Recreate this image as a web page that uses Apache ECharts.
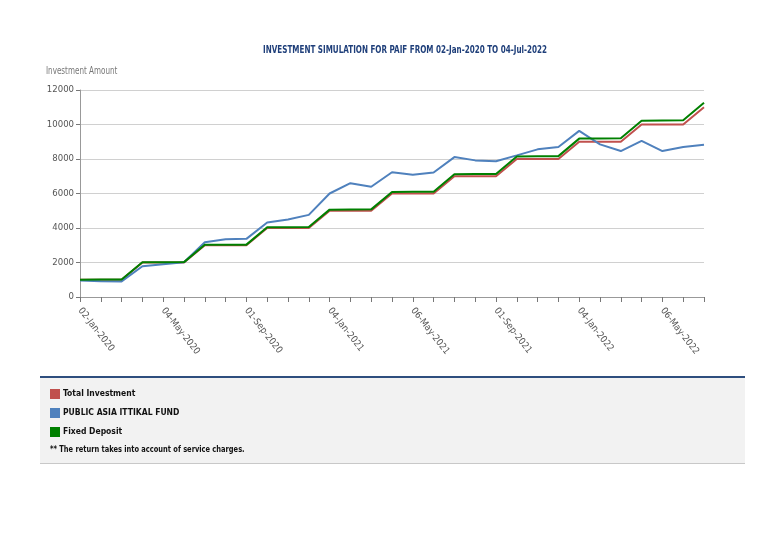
<!DOCTYPE html>
<html><head><meta charset="utf-8">
<script src="https://cdn.jsdelivr.net/npm/echarts@6/dist/echarts.min.js"></script>
<style>html,body{margin:0;padding:0;background:#fff}#c{width:768px;height:543px}</style>
</head><body><div id="c"></div>
<script>
const categories = ["02-Jan-2020","03-Feb-2020","02-Mar-2020","01-Apr-2020","04-May-2020","01-Jun-2020","01-Jul-2020","03-Aug-2020","01-Sep-2020","01-Oct-2020","02-Nov-2020","01-Dec-2020",
"04-Jan-2021","01-Feb-2021","01-Mar-2021","01-Apr-2021","06-May-2021","01-Jun-2021","01-Jul-2021","02-Aug-2021","01-Sep-2021","01-Oct-2021","01-Nov-2021","01-Dec-2021",
"04-Jan-2022","07-Feb-2022","01-Mar-2022","01-Apr-2022","06-May-2022","01-Jun-2022","04-Jul-2022"];
const totalInvestment = [1000,1000,1000,2000,2000,2000,3000,3000,3000,4000,4000,4000,5000,5000,5000,6000,6000,6000,7000,7000,7000,8000,8000,8000,9000,9000,9000,10000,10000,10000,11000];
const paif = [950,910,905,1780,1900,2020,3170,3350,3370,4320,4490,4760,6000,6600,6390,7230,7090,7220,8110,7920,7870,8210,8560,8700,9630,8850,8460,9050,8460,8700,8830];
const fixedDeposit = [1005,1008,1010,2015,2018,2022,3028,3032,3036,4045,4050,4055,5065,5072,5080,6090,6098,6106,7118,7126,7134,8148,8157,8166,9182,9192,9202,10218,10230,10242,11260];
const seriesNames = ["Total Investment","PUBLIC ASIA ITTIKAL FUND","Fixed Deposit"];
const seriesColors = ["#C0504D","#4F81BD","#008000"];
const yTicks = {min:0,max:12000,interval:2000};

const FONT = '"DejaVu Sans Condensed","Liberation Sans",sans-serif';
const chart = echarts.init(document.getElementById('c'));
const mk = (name, data, i, z) => ({
  name, type:'line', data, showSymbol:false, symbol:'none', z,
  lineStyle:{color:seriesColors[i], width:2}, itemStyle:{color:seriesColors[i]}
});
chart.setOption({
  animation:false,
  textStyle:{fontFamily:FONT},
  graphic:[
    {type:'text', x:405, y:45, scaleX:0.8, style:{text:'INVESTMENT SIMULATION FOR PAIF FROM 02-Jan-2020 TO 04-Jul-2022', font:'bold 10px '+FONT, fill:'#1F3F7A', textAlign:'center'}},
    {type:'text', x:46, y:66, scaleX:0.8, style:{text:'Investment Amount', font:'10px '+FONT, fill:'#777'}},
    {type:'rect', shape:{x:40,y:377,width:705,height:86}, style:{fill:'#F2F2F2'}, z:-1},
    {type:'rect', shape:{x:40,y:376,width:705,height:2}, style:{fill:'#2E4E7E'}},
    {type:'rect', shape:{x:40,y:463,width:705,height:1}, style:{fill:'#C8C8C8'}},
    {type:'text', x:50, y:445, scaleX:0.78, style:{text:'** The return takes into account of service charges.', font:'bold 9.5px '+FONT, fill:'#111'}}
  ],
  legend:{
    orient:'vertical', left:45, top:384, itemWidth:10, itemHeight:10, itemGap:9,
    icon:'rect', data:seriesNames,
    textStyle:{fontFamily:FONT, fontWeight:'bold', fontSize:8.5, color:'#111', padding:[0,0,0,-2]}
  },
  grid:{left:80, right:64, top:90, bottom:246},
  xAxis:{
    type:'category', data:categories, boundaryGap:false,
    axisLine:{lineStyle:{color:'#999'}},
    axisTick:{show:true, interval:0, length:5, lineStyle:{color:'#777'}},
    axisLabel:{interval:3, rotate:-52, color:'#555', fontSize:9.5, fontFamily:FONT, margin:12}
  },
  yAxis:{
    type:'value', min:yTicks.min, max:yTicks.max, interval:yTicks.interval,
    axisLine:{show:true, lineStyle:{color:'#999'}},
    axisTick:{show:true, length:4, lineStyle:{color:'#777'}},
    axisLabel:{color:'#555', fontSize:9.5, fontFamily:FONT, margin:6, formatter:v=>String(v)},
    splitLine:{lineStyle:{color:'#D0D0D0'}}
  },
  series:[
    mk(seriesNames[0], totalInvestment, 0, 2),
    mk(seriesNames[1], paif, 1, 3),
    mk(seriesNames[2], fixedDeposit, 2, 4)
  ]
});
</script></body></html>
